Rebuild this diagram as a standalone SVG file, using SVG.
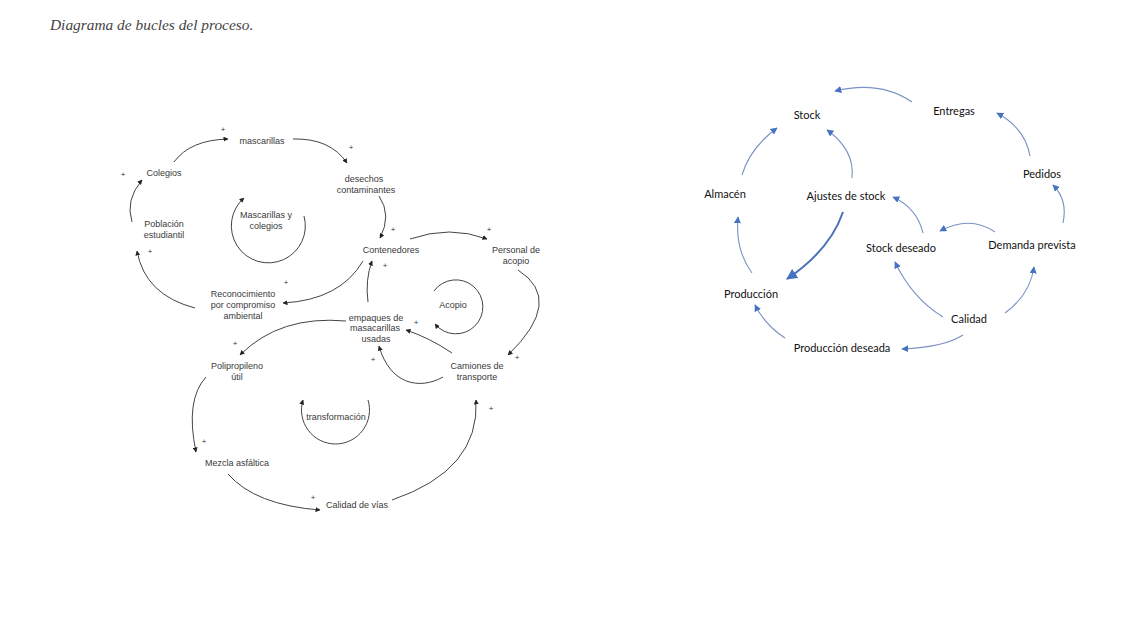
<svg xmlns="http://www.w3.org/2000/svg" width="1138" height="640" viewBox="0 0 1138 640">
<style>
.t{font-family:"Liberation Sans",Arial,sans-serif;font-size:9px;fill:#3a3a3a;text-anchor:middle}
.p{font-family:"Liberation Sans",Arial,sans-serif;font-size:8px;fill:#333;text-anchor:middle}
.r{font-family:Lato,"Liberation Sans",sans-serif;font-size:11px;fill:#111;text-anchor:middle}
.k{fill:none;stroke:#444;stroke-width:1;marker-end:url(#ak)}
.b{fill:none;stroke:#7a92c4;stroke-width:1.1;marker-end:url(#ab)}
.title{font-family:"Liberation Serif","Times New Roman",serif;font-style:italic;font-size:15.4px;fill:#444}
</style>
<defs>
<marker id="ak" viewBox="0 0 10 10" refX="9" refY="5" markerWidth="5" markerHeight="5" markerUnits="userSpaceOnUse" orient="auto"><path d="M0,0 L10,5 L0,10 z" fill="#222"/></marker>
<marker id="ab" viewBox="0 0 10 10" refX="9" refY="5" markerWidth="7" markerHeight="7" markerUnits="userSpaceOnUse" orient="auto"><path d="M0,0 L10,5 L0,10 z" fill="#4672c0"/></marker>
<marker id="abig" viewBox="0 0 10 10" refX="9" refY="5" markerWidth="11" markerHeight="11" markerUnits="userSpaceOnUse" orient="auto"><path d="M0,0 L10,5 L0,10 z" fill="#4672c0"/></marker>
</defs>
<text class="title" x="50" y="30">Diagrama de bucles del proceso.</text>

<g id="connectors-left">
<path class="k" d="M174,162 Q190,140 228,139"/>
<path class="k" d="M293,139 Q330,138 347,163"/>
<path class="k" d="M379,196 Q392,215 380,238"/>
<path class="k" d="M410,239 Q450,225 487,239"/>
<path class="k" d="M518,270 Q565,300 508,355"/>
<path class="k" d="M363,261 Q340,300 283,303"/>
<path class="k" d="M195,308 Q145,295 137,251"/>
<path class="k" d="M132,222 Q125,200 142,180"/>
<path class="k" d="M368,302 Q365,280 372,261"/>
<path class="k" d="M346,321 Q280,315 240,355"/>
<path class="k" d="M452,353 Q430,338 406,330"/>
<path class="k" d="M443,377 C420,390 390,385 379,346"/>
<path class="k" d="M392,500 Q480,470 476,400"/>
<path class="k" d="M228,474 Q255,505 320,510"/>
<path class="k" d="M206,377 Q185,400 196,452"/>
<path class="k" d="M304,216 A37,37 0 1 1 244,198"/>
<path class="k" d="M434,291 A27,27 0 1 1 435,324"/>
<path class="k" d="M368,400 A34,34 0 1 1 303,400"/>
</g>

<g id="plus-signs" class="p">
<text x="223" y="132">+</text>
<text x="123" y="177">+</text>
<text x="351" y="150">+</text>
<text x="393" y="232">+</text>
<text x="489" y="232">+</text>
<text x="150" y="254">+</text>
<text x="286" y="285">+</text>
<text x="385" y="268">+</text>
<text x="235" y="346">+</text>
<text x="416" y="325">+</text>
<text x="373" y="362">+</text>
<text x="517" y="360">+</text>
<text x="491" y="411">+</text>
<text x="313" y="500">+</text>
<text x="204" y="444">+</text>
</g>

<g id="n-mascarillas"><text class="t" x="262" y="144">mascarillas</text></g>
<g id="n-colegios"><text class="t" x="164" y="176">Colegios</text></g>
<g id="n-desechos"><text class="t" x="364" y="182">desechos</text><text class="t" x="366" y="193">contaminantes</text></g>
<g id="n-loop-mascarillas"><text class="t" x="266" y="218">Mascarillas y</text><text class="t" x="266" y="229">colegios</text></g>
<g id="n-poblacion"><text class="t" x="164" y="227">Población</text><text class="t" x="164" y="238">estudiantil</text></g>
<g id="n-contenedores"><text class="t" x="391" y="253">Contenedores</text></g>
<g id="n-personal"><text class="t" x="516" y="253">Personal de</text><text class="t" x="516" y="264">acopio</text></g>
<g id="n-reconocimiento"><text class="t" x="243" y="297">Reconocimiento</text><text class="t" x="243" y="308">por compromiso</text><text class="t" x="243" y="319">ambiental</text></g>
<g id="n-acopio"><text class="t" x="453" y="308">Acopio</text></g>
<g id="n-empaques"><text class="t" x="376" y="321">empaques de</text><text class="t" x="375" y="331">masacarillas</text><text class="t" x="376" y="342">usadas</text></g>
<g id="n-polipropileno"><text class="t" x="237" y="369">Polipropileno</text><text class="t" x="237" y="380">útil</text></g>
<g id="n-camiones"><text class="t" x="477" y="369">Camiones de</text><text class="t" x="477" y="380">transporte</text></g>
<g id="n-transformacion"><text class="t" x="336" y="420">transformación</text></g>
<g id="n-mezcla"><text class="t" x="237" y="466">Mezcla asfáltica</text></g>
<g id="n-calidad-vias"><text class="t" x="357" y="508">Calidad de vías</text></g>

<g id="connectors-right">
<path class="b" d="M912,102 Q880,80 835,91"/>
<path class="b" d="M1030,156 Q1025,128 997,113"/>
<path class="b" d="M1063,223 Q1068,200 1053,185"/>
<path class="b" d="M742,175 Q750,148 777,128"/>
<path class="b" d="M852,178 Q855,150 827,130"/>
<path d="M843,212 Q830,250 787,279" fill="none" stroke="#4a72b8" stroke-width="2" marker-end="url(#abig)"/>
<path class="b" d="M752,273 Q735,250 738,217"/>
<path class="b" d="M923,233 Q917,208 893,197"/>
<path class="b" d="M995,232 Q970,215 940,231"/>
<path class="b" d="M943,317 Q912,298 895,262"/>
<path class="b" d="M1005,313 Q1030,295 1034,267"/>
<path class="b" d="M963,335 Q945,347 902,349"/>
<path class="b" d="M785,338 Q765,325 755,305"/>
</g>

<g id="n-stock"><text class="r" x="807" y="119">Stock</text></g>
<g id="n-entregas"><text class="r" x="954" y="115">Entregas</text></g>
<g id="n-pedidos"><text class="r" x="1042" y="178">Pedidos</text></g>
<g id="n-almacen"><text class="r" x="725" y="198">Almacén</text></g>
<g id="n-ajustes"><text class="r" x="846" y="200">Ajustes de stock</text></g>
<g id="n-stock-deseado"><text class="r" x="901" y="252">Stock deseado</text></g>
<g id="n-demanda"><text class="r" x="1032" y="249">Demanda prevista</text></g>
<g id="n-produccion"><text class="r" x="751" y="298">Producción</text></g>
<g id="n-calidad"><text class="r" x="969" y="323">Calidad</text></g>
<g id="n-produccion-deseada"><text class="r" x="842" y="352">Producción deseada</text></g>
</svg>
